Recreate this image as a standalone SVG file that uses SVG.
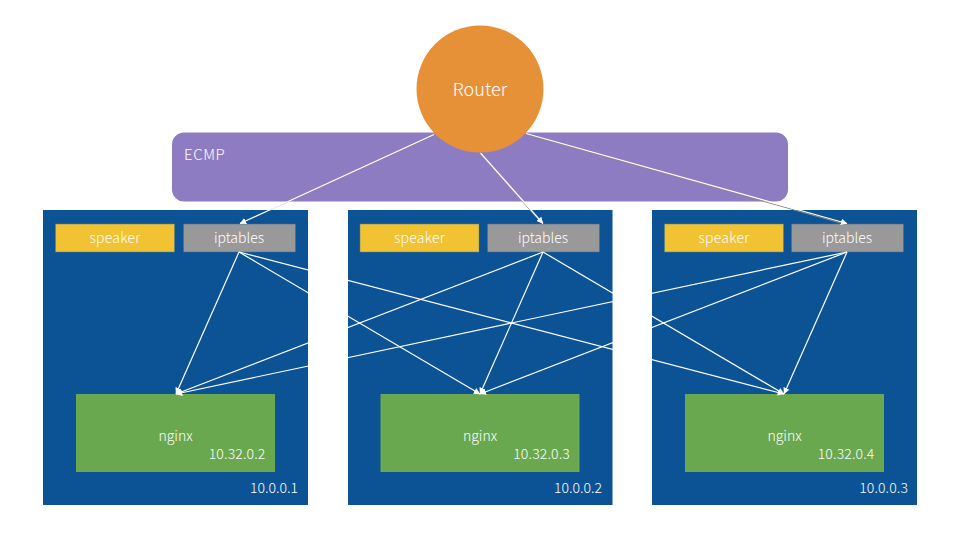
<svg xmlns="http://www.w3.org/2000/svg" width="960" height="540" viewBox="0 0 960 540">
<defs>
<style>
text{font-family:"Noto Sans CJK JP","Noto Sans",sans-serif;font-weight:300;fill:#fff;font-size:14px}
.c{text-anchor:middle}
.r{text-anchor:end}
.panel{fill:#0c5395}
.sp{fill:#f1c232;stroke:#5c7f80;stroke-width:.5}
.ip{fill:#999;stroke:#3f6a96;stroke-width:.5}
.ng{fill:#6aa84f}
.l{stroke:#fff;stroke-width:1.2;fill:none;marker-end:url(#a)}
.s{stroke:#8a8a8a;stroke-width:1;fill:none}
</style>
<marker id="a" viewBox="0 0 10 10" refX="9.5" refY="5" markerWidth="6.500" markerHeight="6.500" markerUnits="userSpaceOnUse" orient="auto"><path d="M0 0L10 5L0 10Z" fill="#fff"/></marker>
</defs>
<rect width="960" height="540" fill="#fff"/>
<g id="ecmp"><rect x="172" y="132.500" width="616" height="69" rx="12" fill="#8e7cc3"/><text x="184" y="160" style="font-size:15px;letter-spacing:.6px">ECMP</text></g>
<g id="host1"><rect class="panel" x="43" y="210" width="265" height="295"/><text class="r" x="298" y="493">10.0.0.1</text></g>
<g id="host2"><rect class="panel" x="348" y="210" width="264.500" height="295"/><text class="r" x="602" y="493">10.0.0.2</text></g>
<g id="host3"><rect class="panel" x="652" y="210" width="265" height="295"/><text class="r" x="908" y="493" style="letter-spacing:.1px">10.0.0.3</text></g>
<g id="speaker1"><rect class="sp" x="55.500" y="224" width="119" height="28"/><text class="c" x="115" y="243" style="letter-spacing:.2px">speaker</text></g>
<g id="iptables1"><rect class="ip" x="183.500" y="224" width="112" height="28"/><text class="c" x="239" y="243">iptables</text></g>
<g id="speaker2"><rect class="sp" x="360" y="224" width="119" height="28"/><text class="c" x="419.500" y="243" style="letter-spacing:.2px">speaker</text></g>
<g id="iptables2"><rect class="ip" x="487.500" y="224" width="112" height="28"/><text class="c" x="543" y="243">iptables</text></g>
<g id="speaker3"><rect class="sp" x="664.500" y="224" width="119" height="28"/><text class="c" x="724" y="243" style="letter-spacing:.2px">speaker</text></g>
<g id="iptables3"><rect class="ip" x="791.500" y="224" width="112" height="28"/><text class="c" x="847" y="243">iptables</text></g>
<g id="nginx1"><rect class="ng" x="76" y="394" width="199" height="78"/><text class="c" x="175.500" y="441">nginx</text><text class="r" x="265.500" y="459" style="letter-spacing:.15px">10.32.0.2</text></g>
<g id="nginx2"><rect class="ng" x="380.500" y="394" width="199" height="78"/><text class="c" x="480" y="441">nginx</text><text class="r" x="570" y="459" style="letter-spacing:.15px">10.32.0.3</text></g>
<g id="nginx3"><rect class="ng" x="685" y="394" width="199" height="78"/><text class="c" x="784.500" y="441">nginx</text><text class="r" x="874.500" y="459" style="letter-spacing:.15px">10.32.0.4</text></g>
<g id="connectors">
<path class="s" d="M434 135.500L240 223.500"/>
<path class="s" d="M479.500 153.500L542 223.500"/>
<path class="s" d="M526 134.500L846 224.500"/>
<path class="l" d="M434 134.500L240 223.500"/>
<path class="l" d="M480.500 153L543 223.500"/>
<path class="l" d="M526 133.500L847 223.500"/>
<path class="l" d="M239 252L176 394"/>
<path class="l" d="M239 252L480 394"/>
<path class="l" d="M239 252L784 394"/>
<path class="l" d="M543 252L176 394"/>
<path class="l" d="M543 252L480 394"/>
<path class="l" d="M543 252L784 394"/>
<path class="l" d="M847 252L176 394"/>
<path class="l" d="M847 252L480 394"/>
<path class="l" d="M847 252L784 394"/>
</g>
<g id="router"><circle cx="480" cy="89" r="63.500" fill="#e69138"/><text class="c" x="480" y="96" style="font-size:18px">Router</text></g>
</svg>
